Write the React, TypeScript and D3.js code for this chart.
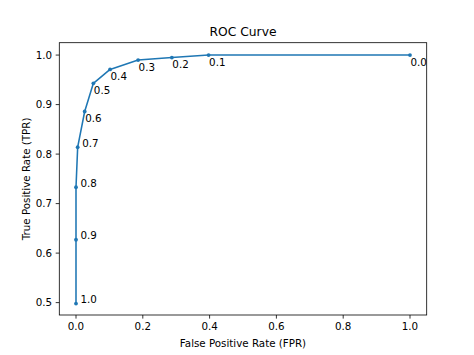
import React from "react";
import * as d3 from "d3";

const thresholds = [1.0, 0.9, 0.8, 0.7, 0.6, 0.5, 0.4, 0.3, 0.2, 0.1, 0.0];
const fpr = [0.0, 0.0, 0.0, 0.005, 0.026, 0.052, 0.102, 0.186, 0.287, 0.397, 1.0];
const tpr = [0.498, 0.627, 0.733, 0.814, 0.886, 0.943, 0.971, 0.99, 0.995, 1.0, 1.0];
const xTicks = [0.0, 0.2, 0.4, 0.6, 0.8, 1.0];
const yTicks = [0.5, 0.6, 0.7, 0.8, 0.9, 1.0];

const W = 474, H = 355;
const L = 59.3, R = 426.7, T = 42.7, B = 315;
const FONT = "DejaVu Sans, sans-serif";
const COLOR = "#1f77b4";

export default function App() {
  const x = d3.scaleLinear().domain([-0.05, 1.05]).range([L, R]);
  const y = d3.scaleLinear().domain([0.475, 1.025]).range([B, T]);
  const pts = fpr.map((f, i) => ({ f, t: tpr[i], th: thresholds[i] }));
  const line = d3.line<{ f: number; t: number }>().x(d => x(d.f)).y(d => y(d.t));
  return (
    <svg width={W} height={H} style={{ position: "absolute", left: 0, top: 0, background: "#fff" }}>
      <rect x={0} y={0} width={W} height={H} fill="#fff" />
      <text x={(L + R) / 2} y={36} textAnchor="middle" fontFamily={FONT} fontSize={12.3} fill="#000">ROC Curve</text>
      <path d={line(pts) || ""} fill="none" stroke={COLOR} strokeWidth={1.55} strokeLinejoin="round" />
      {pts.map((p, i) => (
        <circle key={"c" + i} cx={x(p.f)} cy={y(p.t)} r={1.9} fill={COLOR} />
      ))}
      {pts.map((p, i) => {
        const side = p.f < 0.02;
        return (
          <text key={"l" + i} x={x(p.f) + (side ? 4.5 : 0.5)} y={y(p.t) + (side ? -4 : 7)} dy="0.35em"
            fontFamily={FONT} fontSize={10.3} fill="#000">{p.th.toFixed(1)}</text>
        );
      })}
      <rect x={L} y={T} width={R - L} height={B - T} fill="none" stroke="#000" strokeWidth={0.8} />
      {xTicks.map(t => (
        <g key={"x" + t}>
          <line x1={x(t)} x2={x(t)} y1={B} y2={B + 3.6} stroke="#000" strokeWidth={0.8} />
          <text x={x(t)} y={B + 7.2} dy="0.76em" textAnchor="middle" fontFamily={FONT} fontSize={10.3} fill="#000">{t.toFixed(1)}</text>
        </g>
      ))}
      {yTicks.map(t => (
        <g key={"y" + t}>
          <line x1={L - 3.6} x2={L} y1={y(t)} y2={y(t)} stroke="#000" strokeWidth={0.8} />
          <text x={L - 7.2} y={y(t)} dy="0.35em" textAnchor="end" fontFamily={FONT} fontSize={10.3} fill="#000">{t.toFixed(1)}</text>
        </g>
      ))}
      <text x={(L + R) / 2} y={346.5} textAnchor="middle" fontFamily={FONT} fontSize={10.3} fill="#000">False Positive Rate (FPR)</text>
      <text transform={`translate(29.5,${(T + B) / 2}) rotate(-90)`} textAnchor="middle" fontFamily={FONT} fontSize={10.3} fill="#000">True Positive Rate (TPR)</text>
    </svg>
  );
}
